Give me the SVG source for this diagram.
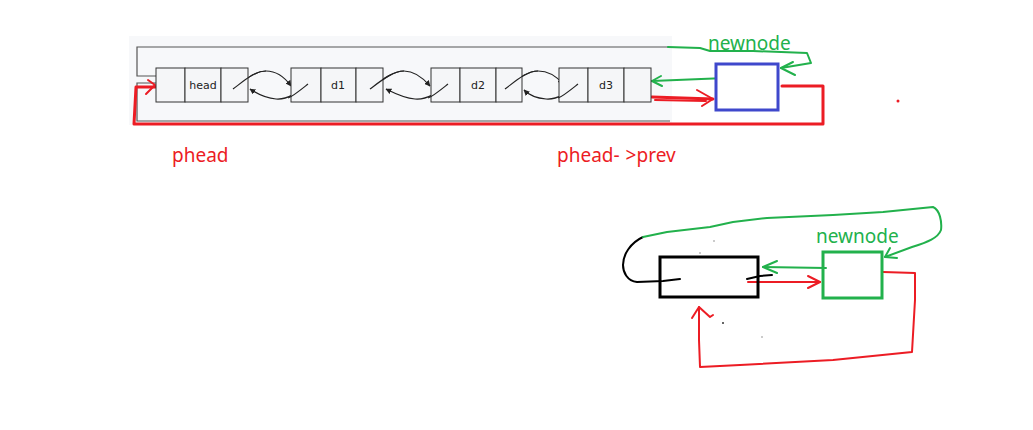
<svg xmlns="http://www.w3.org/2000/svg" width="1033" height="430" viewBox="0 0 1033 430">
<style>
.cell{fill:#f5f6f8;stroke:#333;stroke-width:1}
.lbl{font-family:"DejaVu Sans","Liberation Sans",sans-serif;font-size:11px;fill:#222;text-anchor:middle}
.red{fill:none;stroke:#ec1c24;stroke-width:3;stroke-linecap:round;stroke-linejoin:round}
.redt{fill:none;stroke:#ec1c24;stroke-width:2;stroke-linecap:round;stroke-linejoin:round}
.grn{fill:none;stroke:#22b14c;stroke-width:2;stroke-linecap:round;stroke-linejoin:round}
.blk{fill:none;stroke:#000;stroke-width:2;stroke-linecap:round;stroke-linejoin:round}
.gray{fill:none;stroke:#555;stroke-width:1.2}
.cur{fill:none;stroke:#222;stroke-width:1.2;marker-end:url(#ah)}
.rtxt{font-family:"Noto Sans","Open Sans","Liberation Sans",sans-serif;font-size:19px;fill:#ec1c24}
.gtxt{font-family:"Noto Sans","Open Sans","Liberation Sans",sans-serif;font-size:19px;fill:#22b14c}
</style>
<defs>
<marker id="ah" viewBox="0 0 10 10" refX="9" refY="5" markerWidth="6" markerHeight="6" orient="auto" markerUnits="userSpaceOnUse">
<path d="M0,0 L10,5 L0,10 z" fill="#222"/>
</marker>
</defs>
<rect width="1033" height="430" fill="#fff"/>
<rect x="129" y="36" width="543" height="89" fill="#f7f8fa"/>

<g id="connectors">
<polyline class="gray" points="156,76 137,76 137,47 668,47"/>
<polyline class="gray" points="156,83 137,83 137,121 670,121"/>
<path class="cur" d="M233,89 C245,80 255,71 266,71 C278,71 286,79 291,86"/>
<path class="cur" d="M308,84 C298,92 288,100 276,99 C264,98 256,93 250,89"/>
<path class="cur" d="M370,89 C382,80 393,71 404,71 C416,71 424,79 430,86"/>
<path class="cur" d="M448,84 C438,92 428,100 415,99 C403,98 394,93 386,89"/>
<path class="cur" d="M505,89 C517,80 527,71 538,71 C550,71 558,78 563,84"/>
<path class="cur" d="M578,84 C568,92 558,100 546,99 C534,98 528,94 524,90"/>
<polyline class="red" points="782,86 823,86 823,124 134,124 136,87 156,87"/>
<polyline class="redt" points="146,94 155,85 148,80"/>
<polyline class="red" points="652,97 713,99"/>
<polyline class="redt" points="697,90 713,99 702,106"/>
<polyline class="redt" points="655,100 706,101"/>
<polyline class="grn" points="668,47 700,48 710,51 753,51 807,53 811,63 781,68"/>
<polyline class="grn" points="793,62 781,68 795,75"/>
<polyline class="grn" points="726,78 652,81"/>
<polyline class="grn" points="661,76 652,81 662,86"/>
<path class="blk" d="M680,279 L663,281 L637,282 C627,281 623,272 623,265 C623,255 630,243 643,237"/>
<path class="blk" d="M747,279 L760,276 L772,275"/>
<path class="grn" d="M643,237 L667,232 L710,227 L733,222 L767,218 L833,215 L883,212 L933,207 C940,210 942,222 941,230 C938,238 928,242 912,247 L885,257"/>
<polyline class="grn" points="890,248 885,257 897,258"/>
<polyline class="grn" points="826,268 763,267"/>
<polyline class="grn" points="777,261 763,267 777,273"/>
<polyline class="redt" points="748,282 820,282"/>
<polyline class="redt" points="808,276 820,282 808,288"/>
<polyline class="redt" points="883,272 915,273 915,300 912,352 833,360 740,365 700,367 699,340 699,307"/>
<polyline class="redt" points="692,318 699,307 710,317 713,315"/>
</g>

<g id="node-head">
<rect class="cell" x="156" y="68" width="29" height="34"/>
<rect class="cell" x="185" y="68" width="36" height="34"/>
<rect class="cell" x="221" y="68" width="27" height="34"/>
<text class="lbl" x="203" y="89">head</text>
</g>
<g id="node-d1">
<rect class="cell" x="291" y="68" width="30" height="34"/>
<rect class="cell" x="321" y="68" width="35" height="34"/>
<rect class="cell" x="356" y="68" width="27" height="34"/>
<text class="lbl" x="338" y="89">d1</text>
</g>
<g id="node-d2">
<rect class="cell" x="431" y="68" width="29" height="34"/>
<rect class="cell" x="460" y="68" width="36" height="34"/>
<rect class="cell" x="496" y="68" width="26" height="34"/>
<text class="lbl" x="478" y="89">d2</text>
</g>
<g id="node-d3">
<rect class="cell" x="559" y="68" width="29" height="34"/>
<rect class="cell" x="588" y="68" width="36" height="34"/>
<rect class="cell" x="624" y="68" width="27" height="34"/>
<text class="lbl" x="606" y="89">d3</text>
</g>
<g id="slashes">
<path class="cur" d="M233,89 C245,80 255,71 266,71" style="marker-end:none"/>
<path class="cur" d="M308,84 C298,92 292,97 288,98" style="marker-end:none"/>
<path class="cur" d="M370,89 C382,80 393,71 404,71" style="marker-end:none"/>
<path class="cur" d="M448,84 C438,92 432,97 428,98" style="marker-end:none"/>
<path class="cur" d="M505,89 C517,80 527,71 538,71" style="marker-end:none"/>
<path class="cur" d="M578,84 C568,92 562,97 558,98" style="marker-end:none"/>
</g>

<g id="node-newnode-top">
<rect x="716" y="64" width="62" height="46" fill="#fff" stroke="#3f48cc" stroke-width="3"/>
<text class="gtxt" x="708" y="50">newnode</text>
</g>

<g id="node-black">
<rect x="660" y="257" width="98" height="40" fill="none" stroke="#000" stroke-width="3"/>
</g>
<g id="node-newnode-bottom">
<rect x="823" y="252" width="59" height="46" fill="none" stroke="#22b14c" stroke-width="3"/>
<text class="gtxt" x="816" y="243">newnode</text>
</g>

<g id="labels">
<text class="rtxt" x="172" y="162">phead</text>
<text class="rtxt" x="557" y="162">phead-<tspan dx="6">&gt;</tspan>prev</text>
</g>
<g id="specks">
<circle cx="898" cy="101" r="1.5" fill="#ec1c24"/>
<circle cx="714" cy="241" r="0.8" fill="#888"/>
<circle cx="700" cy="253" r="0.8" fill="#888"/>
<circle cx="723" cy="323" r="1" fill="#333"/>
<circle cx="762" cy="337" r="0.8" fill="#888"/>
</g>
</svg>
